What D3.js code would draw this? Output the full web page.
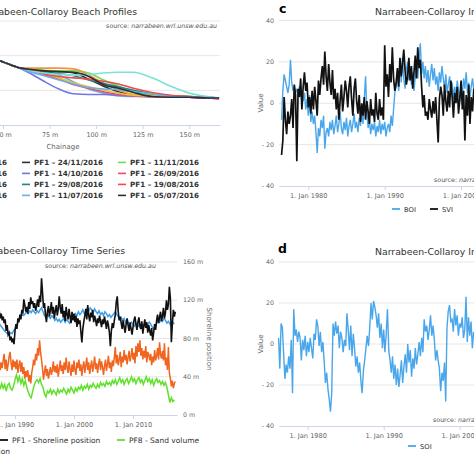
<!DOCTYPE html>
<html>
<head>
<meta charset="utf-8">
<script src="https://cdn.jsdelivr.net/npm/d3@7"></script>
<style>
body { margin: 0; background: #fff; }
svg { display: block; font-family: "DejaVu Sans", sans-serif; }
</style>
</head>
<body>
<div id="chart"></div>
<script>
const W = 474, H = 474;
const gridColor = "#e6e6e6", axisColor = "#ccd6eb", labelColor = "#666", textColor = "#333";

// ---------- beach profiles (top left)
const chainage = [40, 50, 58, 65, 72, 80, 88, 96, 104, 112, 120, 130, 140, 150, 160, 166];
const profileDates = ["08/12/2016", "24/11/2016", "11/11/2016", "27/10/2016", "14/10/2016", "26/09/2016",
                      "12/09/2016", "29/08/2016", "19/08/2016", "26/07/2016", "11/07/2016", "05/07/2016"];
const profileElev = [
  [5.0, 4.1, 3.3, 2.9, 2.6, 2.2, 1.2, 0.2, -0.4, -0.8, -0.9, -0.9, -1.0, -1.0, -1.1, -1.1],
  [5.0, 4.1, 3.3, 3.0, 2.8, 2.7, 2.5, 1.6, 0.6, -0.2, -0.7, -0.9, -0.9, -1.0, -1.1, -1.1],
  [5.0, 4.1, 3.3, 3.1, 2.9, 2.8, 2.8, 2.5, 1.5, 0.6, -0.2, -0.6, -0.8, -0.9, -1.0, -1.1],
  [5.0, 4.1, 3.3, 3.2, 3.2, 3.2, 3.1, 2.2, 1.0, 0.0, -0.6, -0.8, -0.9, -1.0, -1.1, -1.2],
  [5.0, 4.1, 3.3, 2.4, 1.3, 0.2, -0.5, -0.6, -0.6, -0.7, -0.8, -0.9, -1.0, -1.0, -1.1, -1.1],
  [5.0, 4.1, 3.3, 2.8, 2.3, 1.6, 0.8, 0.3, -0.2, -0.6, -0.8, -0.9, -1.0, -1.0, -1.1, -1.2],
  [5.0, 4.1, 3.3, 3.0, 2.5, 1.8, 1.1, 0.5, 0.0, -0.4, -0.7, -0.8, -0.9, -1.0, -1.0, -1.1],
  [5.0, 4.1, 3.3, 3.0, 2.7, 2.4, 2.1, 1.5, 1.0, 0.5, 0.0, -0.5, -0.8, -0.9, -1.0, -1.1],
  [5.0, 4.1, 3.3, 2.9, 2.4, 2.0, 1.8, 1.6, 1.3, 0.9, 0.3, -0.3, -0.7, -0.9, -1.1, -1.2],
  [5.0, 4.1, 3.3, 2.8, 2.5, 2.3, 2.2, 2.3, 2.5, 2.6, 2.6, 1.8, 0.6, -0.4, -0.9, -1.1],
  [5.0, 4.1, 3.3, 2.6, 2.1, 1.5, 0.9, 0.4, 0.2, 0.1, -0.2, -0.5, -0.9, -1.0, -1.0, -1.1],
  [5.0, 4.1, 3.3, 3.0, 2.8, 2.7, 2.6, 2.0, 0.8, 0.3, -0.3, -0.9, -1.0, -1.0, -1.1, -1.1]
];
const profileColors = ["#6aaeea", "#2e2e34", "#6fdc55", "#f59240", "#7076e2", "#ee4a6e",
                       "#dcc63a", "#22857f", "#f24848", "#7be2d8", "#6aaeea", "#2e2e34"];

// ---------- indices BOI / SVI (top right), every 2 months from Jul 1976
const boiStart = new Date(1976, 6, 1);
const boi = [
  -8, 6, 14, 11, 8, 5,   9, 21, 10, 6, 8, 5,   7, 4, 8, 3, 6, 1,   5, -3, 2, -6, 4, -9,
  -4, -10, -6, -14, -24, -12,   -16, -8, -12, -6, -22, -14,   -12, -16, -9, -13, -8, -15,
  -11, -6, -14, -10, -4, -12,   -15, -9, -13, -7, -16, -11,   -8, -14, -10, -5, -12, -9,
  -14, -7, -11, -3, -10, 2,   13, -4, -12, -8, -15, -10,   -13, -9, -16, -11, -14, -8,
  -15, -10, -13, -9, -16, -12,   -10, -14, -6, -11, -3, 5,   8, 14, 6, 18, 10, 22,
  12, 7, 16, 20, 11, 17,   9, 15, 6, 13, 19, 12,   22, 29, 14, 20, 12, 18,
  10, 16, 8, 14, 19, 11,   17, 9, 13, 6, 15, 10,   18, 12, 7, 14, 5, 9,
  13, 4, 10, 2, 8, 3,   11, 6, 1, 9, 4, 12,   7, 15, 5, 10, 3, 8,   12, 6, 9, 14
];
const svi = [
  -25, -18, 3, -8, -15, -4,   -10, -6, 2, -12, 9, 4,   -28, 7, 3, 12, -3, 8,   15, 6, 10, -2, 3, -5,
  6, -3, 8, 1, -6, 11,   4, 12, 18, 9, 25, 13,   6, 19, 10, 4, 16, 2,
  7, -3, 5, -8, 1, 9,   -4, 3, 11, 6, -2, 8,   13, 2, -6, 7, 12, 1,
  -5, 4, -9, 0, -6, 3,   -8, 1, -4, -10, 2, -6,   -3, -9, 5, -5, -8, 2,
  -6, -2, -8, 28, 8, 14,   3, 19, 10, 27, 12, 6,   10, 17, 8, 22, 13, 19,
  26, 16, 9, 13, 22, 11,   18, 7, 15, 23, 12, 27,   17, 21, 8, -2, 4, -6,
  -4, -8, 2, -3, -7, 1,   -5, 3, -8, -19, 2, 8,   4, -6, 9, 1, -4, 6,
  -2, 11, 3, -7, 5, 0,   8, -5, 2, 11, -3, 6,   -18, 4, -6, 9, -10, 3,   -4, 7, 2, -5
];

// ---------- SOI (bottom right), every 2 months from Mar 1976
const soiStart = new Date(1976, 2, 1);
const soi = [
  3, -12, 10, 8, -5,
  -17, -10, -14, -6, -12, 2,   -24, 17, 4, 7, 1, 6,   3, -8, 2, -3, 4, -6,
  1, -4, 3, -2, -7, 5,   2, 12, 9, -1, 6, -4,   1, -8, -19, -14, -22, -27,
  -33, -24, 10, 4, 11, 5,   9, -2, 6, 3, -4, 2,   -1, 15, 7, -3, 9, -6,
  5, -2, -11, -6, -14, -9,   -18, -24, -13, -8, -2, 4,   -1, 8, 20, 12, 21, 18,
  14, 8, 15, 3, 10, -2,   7, -4, 5, 17, -3, -8,   -14, -6, -17, -10, -20, -12,
  -21, -15, -8, -19, -11, -5,   -14, 0, -9, -3, -16, -7,   -12, -2, -10, -5, 1, -6,
  3, -4, 12, 6, 9, 2,   7, 14, 4, 9, 2, -8,   -3, -8, -12, -23, -14, -18,
  -9, -28, 8, 16, 19, 11,   12, 6, 17, 9, 14, 4,   10, 8, 13, 3, 7, 23,   1, 13, 4, 11, -2, 6
];

// ---------- time series (bottom left)
const tsStart = new Date(1987, 0, 1);
// every 2 months
const pf1Shoreline = [
  112, 104, 109, 101, 106, 99,   103, 96, 100, 88, 94, 84,   86, 78, 82, 76, 80, 74,
  88, 95, 90, 101, 97, 105,   100, 110, 106, 121, 115, 108,   113, 106, 118, 111, 123, 116,
  119, 112, 117, 109, 114, 121,   113, 125, 118, 143, 128, 112,   117, 105, 97, 108, 114, 103,
  110, 118, 106, 113, 101, 109,   115, 104, 111, 124, 112, 106,   116, 102, 109, 98, 113, 105,
  100, 111, 103, 96, 108, 99,   106, 97, 104, 92, 101, 95,   99, 87, 76, 90, 98, 104,
  111, 100, 115, 104, 98, 107,   102, 110, 97, 104, 99, 93,   101, 96, 104, 98, 92, 100,
  95, 103, 97, 90, 99, 94,   86, 72, 88, 96, 91, 99,   105, 118, 124, 108, 99, 103,
  96, 90, 99, 92, 86, 95,   101, 94, 88, 97, 90, 84,   92, 99, 103, 95, 89, 97,
  102, 94, 90, 98, 85, 93,   100, 91, 97, 86, 94, 88,   83, 91, 78, 86, 95, 89,
  99, 105, 96, 102, 108, 98,   104, 112, 101, 107, 120, 110,   116, 134, 122, 76, 95, 110,
  103, 108
];
const pf8Shoreline = [
  60, 52, 57, 47, 55, 49,   57, 64, 48, 58, 46, 53,   61, 66, 55, 47, 58, 50,
  56, 48, 58, 44, 52, 57,   45, 55, 43, 50, 38, 46,   40, 47, 35, 42, 33, 44,
  50, 58, 52, 64, 57, 70,   62, 78, 66, 58, 48, 37,   45, 52, 41, 48, 38, 44,
  50, 42, 47, 56, 45, 51,   44, 53, 40, 48, 57, 46,   52, 43, 55, 47, 60, 49,
  44, 56, 48, 41, 53, 45,   57, 47, 42, 55, 49, 58,   46, 53, 41, 50, 56, 44,
  52, 60, 47, 55, 43, 51,   57, 45, 52, 61, 48, 54,   44, 53, 59, 47, 56, 50,
  42, 51, 58, 46, 53, 62,   49, 55, 45, 57, 51, 60,   71, 54, 63, 52, 58, 66,
  50, 61, 55, 68, 57, 63,   53, 60, 67, 56, 62, 70,   58, 65, 54, 72, 61, 75,
  66, 78, 62, 70, 58, 67,   60, 72, 55, 66, 63, 57,   64, 52, 61, 55, 68, 57,
  62, 70, 58, 76, 63, 59,   67, 57, 75, 52, 60, 47,   71, 44, 38, 30, 36, 28,
  33, 35
];
// every 3 months
const pf1Volume = [
  98, 96, 94, 92,   90, 88, 86, 85,   84, 86, 85, 88,   90, 93, 97, 100,   103, 105, 104, 106,
  108, 106, 109, 107,   110, 108, 106, 109,   107, 110, 112, 108,   104, 102, 105, 103,
  101, 104, 102, 99,   101, 98, 100, 97,   99, 101, 97, 100,   98, 96, 99, 101,
  103, 106, 104, 108,   105, 107, 110, 106,   108, 111, 109, 112,   110, 107, 111, 108,
  106, 109, 105, 107,   104, 108, 106, 103,   105, 102, 104, 106,   108, 105, 103, 100,
  102, 99, 101, 97,   99, 96, 94, 97,   95, 93, 96, 92,   94, 91, 95, 93,
  96, 92, 94, 97,   95, 92, 90, 93,   96, 99, 97, 100,   98, 101, 99, 96,   98, 95, 93, 97,
  95
];
const pf8Volume = [
  30, 34, 27, 33,   28, 32, 25, 31,   33, 28, 26, 30,   37, 42, 35, 40,   33, 38, 31, 36,
  29, 24, 20, 18,   25, 31, 35, 37,   34, 38, 32, 29,   22, 19, 25, 23,   27, 22, 26, 24,
  21, 27, 23, 26,   24, 28, 25, 22,   27, 24, 29, 26,   23, 28, 25, 29,   27, 31, 26, 30,
  28, 32, 27, 31,   29, 33, 30, 28,   32, 29, 34, 31,   33, 30, 35, 32,   34, 31, 36, 33,
  37, 32, 35, 39,   34, 37, 32, 36,   38, 33, 36, 40,   35, 38, 33, 37,   39, 34, 37, 32,
  36, 40, 35, 38,   33, 37, 31, 35,   38, 34, 36, 32,   35, 31, 34, 29,   21, 13, 18, 14,
  16
];

const svg = d3.select("#chart").append("svg")
  .attr("width", W)
  .attr("height", H);

function dates(start, n, stepMonths) {
  return d3.range(n).map(i => d3.timeMonth.offset(start, i * stepMonths));
}

function styleAxis(g, size) {
  g.attr("font-family", null).attr("font-size", size);
  g.select(".domain").attr("stroke", axisColor);
  g.selectAll(".tick line").attr("stroke", axisColor);
  g.selectAll(".tick text").attr("fill", labelColor);
}

function gridLines(g, values, y, x0, x1) {
  g.selectAll(null)
    .data(values)
    .enter()
    .append("line")
      .attr("x1", x0).attr("x2", x1)
      .attr("y1", d => y(d)).attr("y2", d => y(d))
      .attr("stroke", gridColor)
      .attr("stroke-width", 1);
}

function sourceText(x, y, anchor) {
  const t = svg.append("text")
    .attr("x", x).attr("y", y)
    .attr("text-anchor", anchor)
    .attr("font-size", 6.3)
    .attr("fill", "#555");
  t.append("tspan").text("source:  ");
  t.append("tspan").attr("font-style", "italic").text("narrabeen.wrl.unsw.edu.au");
}

// ================= top left: beach profiles
const xA = d3.scaleLinear().domain([35, 166.5]).range([-24.9, 220]);
const yA = d3.scaleLinear().domain([-5, 10]).range([125, 21]);

const gA = svg.append("g");
gridLines(gA, [0, 5, 10], yA, -25, 220);

const lineA = d3.line()
  .x((d, i) => xA(chainage[i]))
  .y(d => yA(d))
  .curve(d3.curveMonotoneX);

gA.selectAll(".profile")
  .data(profileElev)
  .enter()
  .append("path")
    .attr("class", "profile")
    .attr("d", lineA)
    .attr("fill", "none")
    .attr("stroke", (d, i) => profileColors[i])
    .attr("stroke-width", 1.6);

gA.append("g")
  .attr("transform", "translate(0,125)")
  .call(d3.axisBottom(xA).tickValues([50, 75, 100, 125, 150]).tickFormat(d => d + " m").tickSize(4).tickSizeOuter(0))
  .call(g => styleAxis(g, 6.4));

svg.append("text")
  .attr("x", 63).attr("y", 148.5)
  .attr("text-anchor", "middle")
  .attr("font-size", 7)
  .attr("fill", labelColor)
  .text("Chainage");

svg.append("text")
  .attr("x", 137).attr("y", 15)
  .attr("text-anchor", "end")
  .attr("font-size", 9.3)
  .attr("fill", textColor)
  .text("Narrabeen-Collaroy Beach Profiles");
sourceText(217, 28, "end");

// legend, 3 columns
const legA = svg.selectAll(".legA")
  .data(profileDates)
  .enter()
  .append("g")
    .attr("class", "legA")
    .attr("transform", (d, i) => `translate(${-74 + (i % 3) * 96},${165 + Math.floor(i / 3) * 11})`);
legA.append("line")
  .attr("x1", 0).attr("x2", 8)
  .attr("y1", -2.6).attr("y2", -2.6)
  .attr("stroke", (d, i) => profileColors[i])
  .attr("stroke-width", 1.6);
legA.append("text")
  .attr("x", 12)
  .attr("font-size", 7.2)
  .attr("font-weight", "bold")
  .attr("fill", textColor)
  .text(d => "PF1 \u2013 " + d);

// ================= top right: BOI / SVI
const xC = d3.scaleTime().domain([new Date(1980, 0, 1), new Date(1990, 0, 1)]).range([308.3, 384.7]);
xC.domain([xC.invert(279), xC.invert(510)]).range([279, 510]);
const yC = d3.scaleLinear().domain([-40, 40]).range([186, 20.5]);

const gC = svg.append("g");
gridLines(gC, [-20, 0, 20, 40], yC, 279, 510);

const yFmt = v => v < 0 ? "- " + (-v) : String(v);

function yLabels(y, x) {
  svg.selectAll(null)
    .data([-40, -20, 0, 20, 40])
    .enter()
    .append("text")
      .attr("x", x).attr("y", d => y(d) + 2.2)
      .attr("text-anchor", "end")
      .attr("font-size", 6.3)
      .attr("fill", labelColor)
      .text(yFmt);
}
yLabels(yC, 274);

const boiDates = dates(boiStart, boi.length, 2);
const lineC = d3.line().x((d, i) => xC(boiDates[i])).y(d => yC(d));
gC.append("path").attr("d", lineC(boi)).attr("fill", "none").attr("stroke", "#4aa6ea").attr("stroke-width", 1.4);
gC.append("path").attr("d", lineC(svi)).attr("fill", "none").attr("stroke", "#111").attr("stroke-width", 1.7);

const decadeTicks = [1970, 1980, 1990, 2000, 2010].map(y => new Date(y, 0, 1));
gC.append("g")
  .attr("transform", "translate(0,186)")
  .call(d3.axisBottom(xC).tickValues(decadeTicks.slice(1, 4)).tickFormat(d3.timeFormat("1. Jan %Y")).tickSize(4).tickSizeOuter(0))
  .call(g => styleAxis(g, 6.6));

svg.append("text")
  .attr("transform", "translate(263,103) rotate(-90)")
  .attr("text-anchor", "middle")
  .attr("font-size", 7)
  .attr("fill", labelColor)
  .text("Value");

svg.append("text").attr("x", 279).attr("y", 12.5)
  .attr("font-size", 12.5).attr("font-weight", "bold").attr("fill", "#000").text("c");
svg.append("text").attr("x", 375).attr("y", 14.5)
  .attr("font-size", 9.3).attr("fill", textColor).text("Narrabeen-Collaroy Indices");
sourceText(434, 181.5, "start");

function legendItem(x, y, color, label, size) {
  svg.append("line")
    .attr("x1", x).attr("x2", x + 8)
    .attr("y1", y).attr("y2", y)
    .attr("stroke", color).attr("stroke-width", 1.8);
  svg.append("text")
    .attr("x", x + 12).attr("y", y + 2.6)
    .attr("font-size", size)
    .attr("fill", textColor)
    .text(label);
}
legendItem(392, 209, "#4aa6ea", "BOI", 6.8);
legendItem(430, 209, "#111", "SVI", 6.8);

// ================= bottom right: SOI
const xD = d3.scaleTime().domain([new Date(1980, 0, 1), new Date(1990, 0, 1)]).range([307.7, 383.7]);
xD.domain([xD.invert(279), xD.invert(510)]).range([279, 510]);
const yD = d3.scaleLinear().domain([-40, 40]).range([426, 262]);

const gD = svg.append("g");
gridLines(gD, [-20, 0, 20, 40], yD, 279, 510);
yLabels(yD, 274);

const soiDates = dates(soiStart, soi.length, 2);
gD.append("path")
  .attr("d", d3.line().x((d, i) => xD(soiDates[i])).y(d => yD(d))(soi))
  .attr("fill", "none").attr("stroke", "#4aa6ea").attr("stroke-width", 1.4);

gD.append("g")
  .attr("transform", "translate(0,426)")
  .call(d3.axisBottom(xD).tickValues(decadeTicks.slice(1, 4)).tickFormat(d3.timeFormat("1. Jan %Y")).tickSize(4).tickSizeOuter(0))
  .call(g => styleAxis(g, 6.6));

svg.append("text")
  .attr("transform", "translate(263,344) rotate(-90)")
  .attr("text-anchor", "middle")
  .attr("font-size", 7)
  .attr("fill", labelColor)
  .text("Value");

svg.append("text").attr("x", 278).attr("y", 252.7)
  .attr("font-size", 12.5).attr("font-weight", "bold").attr("fill", "#000").text("d");
svg.append("text").attr("x", 375).attr("y", 254.5)
  .attr("font-size", 9.3).attr("fill", textColor).text("Narrabeen-Collaroy Indices");
sourceText(433, 421.5, "start");
legendItem(408, 446, "#4aa6ea", "SOI", 6.8);

// ================= bottom left: time series
const xB = d3.scaleTime().domain([new Date(1990, 0, 1), new Date(2000, 0, 1)]).range([15, 74]);
xB.domain([xB.invert(-30), xB.invert(177)]).range([-30, 177]);
const yB = d3.scaleLinear().domain([0, 160]).range([415, 262]);

const gB = svg.append("g");
gridLines(gB, [40, 80, 120, 160], yB, -30, 177);

const d2 = dates(tsStart, pf1Shoreline.length, 2);
const d3m = dates(tsStart, pf1Volume.length, 3);
const lineB2 = d3.line().x((d, i) => xB(d2[i])).y(d => yB(d));
const lineB3 = d3.line().x((d, i) => xB(d3m[i])).y(d => yB(d));

gB.append("path").attr("d", lineB3(pf1Volume)).attr("fill", "none").attr("stroke", "#3f9fe8").attr("stroke-width", 1.5);
gB.append("path").attr("d", lineB2(pf8Shoreline)).attr("fill", "none").attr("stroke", "#f0651f").attr("stroke-width", 1.5);
gB.append("path").attr("d", lineB3(pf8Volume)).attr("fill", "none").attr("stroke", "#5fe02b").attr("stroke-width", 1.5);
gB.append("path").attr("d", lineB2(pf1Shoreline)).attr("fill", "none").attr("stroke", "#111").attr("stroke-width", 1.6);

gB.append("g")
  .attr("transform", "translate(0,415)")
  .call(d3.axisBottom(xB).tickValues(decadeTicks.slice(2)).tickFormat(d3.timeFormat("1. Jan %Y")).tickSize(4).tickSizeOuter(0))
  .call(g => styleAxis(g, 6.6));

svg.selectAll(null)
  .data([0, 40, 80, 120, 160])
  .enter()
  .append("text")
    .attr("x", 183).attr("y", d => yB(d) + 2.2)
    .attr("font-size", 6.3)
    .attr("fill", labelColor)
    .text(d => d + " m");

svg.append("text")
  .attr("transform", "translate(206.5,339) rotate(90)")
  .attr("text-anchor", "middle")
  .attr("font-size", 7)
  .attr("fill", labelColor)
  .text("Shoreline position");

svg.append("text")
  .attr("x", 125).attr("y", 254)
  .attr("text-anchor", "end")
  .attr("font-size", 9.3)
  .attr("fill", textColor)
  .text("Narrabeen-Collaroy Time Series");
sourceText(45, 268, "start");

legendItem(0, 440, "#111", "PF1 - Shoreline position", 7.5);
legendItem(117, 440, "#5fe02b", "PF8 - Sand volume", 7.5);
svg.append("text")
  .attr("x", 10).attr("y", 453.5)
  .attr("text-anchor", "end")
  .attr("font-size", 7.5)
  .attr("fill", textColor)
  .text("PF8 - Shoreline position");
</script>
</body>
</html>
